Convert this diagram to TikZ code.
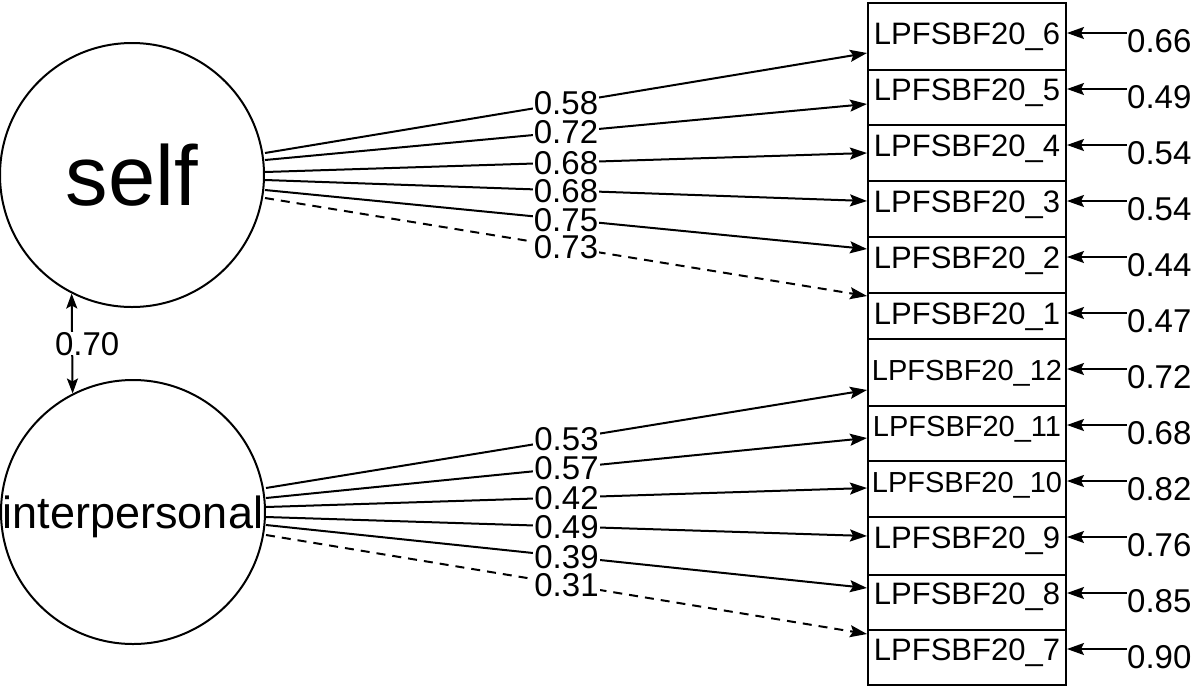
\documentclass[tikz,border=0pt]{standalone}
\usepackage{fontspec}
\setmainfont{Liberation Sans}
\usetikzlibrary{arrows.meta}
\begin{document}
\begin{tikzpicture}[x=1pt,y=-1pt,
  lat/.style={circle, draw, line width=2pt, minimum size=264pt, inner sep=0pt},
  obs/.style={draw, line width=2pt, minimum width=198pt, inner xsep=0pt, inner ysep=0pt, anchor=base, font=\fontsize{31}{31}\selectfont},
  obsw/.style={obs, font=\fontsize{29}{29}\selectfont},
  tip/.style={-{Stealth[length=17pt,width=12pt,inset=3pt]}},
  load/.style={tip, line width=2pt},
  dload/.style={load, dash pattern=on 9pt off 7pt},
  lab/.style={fill=white, inner xsep=1pt, inner ysep=0pt, text height=23pt, text depth=0pt, font=\fontsize{33}{33}\selectfont},
  resv/.style={anchor=west, inner sep=0pt, text height=38pt, text depth=0pt, font=\fontsize{33}{33}\selectfont},
]
\useasboundingbox (0,0) rectangle (1200,689);
% latent variables
\node[lat, font=\fontsize{85}{85}\selectfont] (self) at (132,175) {self};
\node[lat, font=\fontsize{45}{45}\selectfont, text depth=0pt] (inter) at (133,512) {interpersonal};
% indicators
\node[obs, text height=41pt, text depth=26pt] (b6) at (967,44) {LPFSBF20\_6};
\node[obs, text height=30pt, text depth=25pt] (b5) at (967,100) {LPFSBF20\_5};
\node[obs, text height=31pt, text depth=25pt] (b4) at (967,156) {LPFSBF20\_4};
\node[obs, text height=31pt, text depth=25pt] (b3) at (967,212) {LPFSBF20\_3};
\node[obs, text height=31pt, text depth=25pt] (b2) at (967,268) {LPFSBF20\_2};
\node[obs, text height=31pt, text depth=15pt] (b1) at (967,324) {LPFSBF20\_1};
\node[obsw, text height=41pt, text depth=26pt] (b12) at (967,380) {LPFSBF20\_12};
\node[obsw, text height=30pt, text depth=25pt] (b11) at (967,436) {LPFSBF20\_11};
\node[obsw, text height=31pt, text depth=25pt] (b10) at (967,492) {LPFSBF20\_10};
\node[obs, text height=31pt, text depth=27pt] (b9) at (967,548) {LPFSBF20\_9};
\node[obs, text height=29pt, text depth=26pt] (b8) at (967,604) {LPFSBF20\_8};
\node[obs, text height=30pt, text depth=25pt] (b7) at (967,660) {LPFSBF20\_7};
% residual values
\node[resv] (r6) at (1127,33) {0.66};
\node[resv] (r5) at (1127,89) {0.49};
\node[resv] (r4) at (1127,145) {0.54};
\node[resv] (r3) at (1127,201) {0.54};
\node[resv] (r2) at (1127,257) {0.44};
\node[resv] (r1) at (1127,313) {0.47};
\node[resv] (r12) at (1127,369) {0.72};
\node[resv] (r11) at (1127,425) {0.68};
\node[resv] (r10) at (1127,481) {0.82};
\node[resv] (r9) at (1127,537) {0.76};
\node[resv] (r8) at (1127,593) {0.85};
\node[resv] (r7) at (1127,649) {0.90};
\foreach \k in {1,...,12}{
  \draw[load] (r\k.west) -- (r\k.west -| b\k.east);
}
% loadings: self
\draw[load] ([yshift=22pt]self.east) -- node[lab]{0.58} ([yshift=18pt]b6.south west);
\draw[load] ([yshift=15pt]self.east) -- node[lab]{0.72} ([yshift=22pt]b5.south west);
\draw[load] ([yshift=3pt]self.east) -- node[lab]{0.68} ([yshift=29pt]b4.south west);
\draw[load] ([yshift=-5pt]self.east) -- node[lab]{0.68} ([yshift=37pt]b3.south west);
\draw[load] ([yshift=-15pt]self.east) -- node[lab]{0.75} ([yshift=45pt]b2.south west);
\draw[dload] ([yshift=-23pt]self.east) -- node[lab]{0.73} ([yshift=44pt]b1.south west);
% loadings: interpersonal
\draw[load] ([yshift=24pt]inter.east) -- node[lab]{0.53} ([yshift=17pt]b12.south west);
\draw[load] ([yshift=14pt]inter.east) -- node[lab]{0.57} ([yshift=24pt]b11.south west);
\draw[load] ([yshift=5pt]inter.east) -- node[lab]{0.42} ([yshift=30pt]b10.south west);
\draw[load] ([yshift=-5pt]inter.east) -- node[lab]{0.49} ([yshift=40pt]b9.south west);
\draw[load] ([yshift=-13pt]inter.east) -- node[lab]{0.39} ([yshift=43pt]b8.south west);
\draw[dload] ([yshift=-23pt]inter.east) -- node[lab]{0.31} ([yshift=52pt]b7.south west);
% covariance
\draw[{Stealth[length=15pt,width=11pt,inset=3pt]}-{Stealth[length=15pt,width=11pt,inset=3pt]}, line width=2pt]
  (self.243) -- node[lab, xshift=15pt]{0.70} (inter.117);
\end{tikzpicture}
\end{document}
